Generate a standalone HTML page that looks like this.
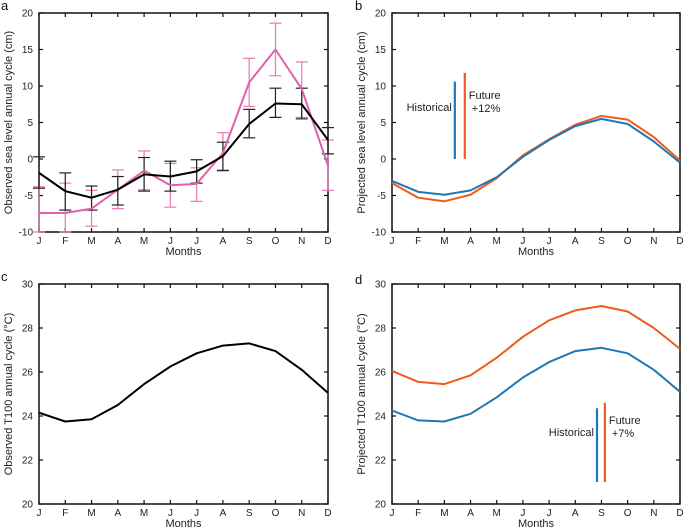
<!DOCTYPE html>
<html><head><meta charset="utf-8"><style>
body{margin:0;background:#fff;}
svg{display:block;font-family:"Liberation Sans",Arial,sans-serif;}
</style></head><body>
<svg id="chart" width="685" height="528" viewBox="0 0 685 528" xmlns="http://www.w3.org/2000/svg"></svg>
<script>
const months = ["J","F","M","A","M","J","J","A","S","O","N","D"];
// Panel a
const aBlack = [-1.9,-4.4,-5.3,-4.2,-2.1,-2.4,-1.7,0.4,4.8,7.6,7.5,2.6];
const aBlackLo = [-4,-7,-7,-6.3,-4.4,-4.4,-3.3,-1.6,2.9,5.7,5.5,0.7];
const aBlackHi = [0.3,-1.9,-3.7,-2.4,0.2,-0.3,-0.1,2.3,6.8,9.7,9.7,4.3];
const aPink = [-7.4,-7.4,-6.8,-4.2,-1.6,-3.6,-3.4,0.8,10.5,15,9.6,-0.9];
const aPinkLo = [-10,-10,-9.2,-6.8,-4.2,-6.6,-5.8,-1.5,7.2,11.4,5.7,-4.3];
const aPinkHi = [-3.8,-3.3,-4.3,-1.5,1.1,-0.6,-1.2,3.6,13.8,18.6,13.3,2.6];
// Panel b
const bHist = [-3,-4.5,-4.9,-4.3,-2.5,0.3,2.6,4.5,5.5,4.8,2.4,-0.5];
const bFut = [-3.3,-5.3,-5.8,-4.9,-2.6,0.5,2.7,4.7,5.9,5.4,3.0,-0.2];
const bLegend = {hist:[0,10.6], fut:[0,11.8], histMonth:2.4, futMonth:2.78};
// Panel c
const cObs = [24.15,23.75,23.85,24.5,25.45,26.25,26.85,27.2,27.3,26.95,26.1,25.05];
// Panel d
const dHist = [24.25,23.8,23.75,24.1,24.85,25.75,26.45,26.95,27.1,26.85,26.1,25.1];
const dFut = [26.05,25.55,25.45,25.85,26.65,27.6,28.35,28.8,29.0,28.75,28.0,27.05];
const dLegend = {hist:[21,24.35], fut:[21,24.6], histMonth:7.83, futMonth:8.13};

const ticksSL = [-10,-5,0,5,10,15,20];
const ticksT = [20,22,24,26,28,30];

const NS="http://www.w3.org/2000/svg";
const svg=document.getElementById('chart');
function mk(tag,attrs,parent,text){const e=document.createElementNS(NS,tag);for(const k in attrs)e.setAttribute(k,attrs[k]);if(text!==undefined)e.textContent=text;(parent||svg).appendChild(e);return e;}

function panel(id,L,R,T,B,ymin,ymax,ticks,ylabel,letter,lx,ly){
  const g=mk('g',{});
  
  
  const x=i=>L+(R-L)*i/11;
  const y=v=>B-(B-T)*(v-ymin)/(ymax-ymin);
  const box=mk('rect',{x:L,y:T,width:R-L,height:B-T,fill:'none',stroke:'#111','stroke-width':1.5},g);
  
  
  months.forEach((m,i)=>{
    mk('line',{x1:x(i),x2:x(i),y1:B,y2:B-4,stroke:'#111','stroke-width':1.2},g);
    mk('line',{x1:x(i),x2:x(i),y1:T,y2:T+4,stroke:'#111','stroke-width':1.2},g);
    const t=mk('text',{x:x(i),y:B+12,'font-size':10,'text-anchor':'middle',fill:'#222'},g,m);
    
    
  });
  ticks.forEach(v=>{
    mk('line',{x1:L,x2:L+4,y1:y(v),y2:y(v),stroke:'#111','stroke-width':1.2},g);
    mk('line',{x1:R,x2:R-4,y1:y(v),y2:y(v),stroke:'#111','stroke-width':1.2},g);
    const t=mk('text',{x:L-6,y:y(v)+3.5,'font-size':10,'text-anchor':'end',fill:'#222'},g,String(v));
    
    
  });
  const xt=mk('text',{x:(L+R)/2,y:B+23,'font-size':11,'text-anchor':'middle',fill:'#222'},g,'Months');
  
  
  const yc=(T+B)/2, yx=L-27;
  const yt=mk('text',{x:yx,y:yc,'font-size':11,'text-anchor':'middle',fill:'#222',transform:`rotate(-90 ${yx} ${yc})`},g,ylabel);
  
  
  const pl=mk('text',{x:lx,y:ly,'font-size':13,fill:'#111'},g,letter);
  
  
  return {g,x,y};
}
function line(p,vals,color,name,w){
  const l=mk('polyline',{points:vals.map((v,i)=>p.x(i)+','+p.y(v)).join(' '),fill:'none',stroke:color,'stroke-width':w||2,'stroke-linejoin':'round'},p.g);
  
  
}
function errs(p,lo,hi,color,name){
  lo.forEach((v,i)=>{
    const cx=p.x(i);
    const g=mk('g',{stroke:color,'stroke-width':1.2},p.g);
    
    
    mk('line',{x1:cx,x2:cx,y1:p.y(v),y2:p.y(hi[i])},g);
    mk('line',{x1:cx-6,x2:cx+6,y1:p.y(v),y2:p.y(v)},g);
    mk('line',{x1:cx-6,x2:cx+6,y1:p.y(hi[i]),y2:p.y(hi[i])},g);
  });
}
function legend(p,leg,histY,futY,pctText){
  const xm=i=>p.x(i);
  const b=mk('line',{x1:xm(leg.histMonth),x2:xm(leg.histMonth),y1:p.y(leg.hist[0]),y2:p.y(leg.hist[1]),stroke:'#1f77b4','stroke-width':2.2},p.g);
  
  
  const o=mk('line',{x1:xm(leg.futMonth),x2:xm(leg.futMonth),y1:p.y(leg.fut[0]),y2:p.y(leg.fut[1]),stroke:'#f05a1a','stroke-width':2.2},p.g);
  
  
  const h=mk('text',{x:xm(leg.histMonth)-3,y:histY,'font-size':11,'text-anchor':'end',fill:'#222'},p.g,'Historical');
  
  
  const f=mk('text',{x:xm(leg.futMonth)+4,y:futY,'font-size':11,fill:'#222'},p.g,'Future');
  
  
  const pc=mk('text',{x:xm(leg.futMonth)+7,y:futY+13,'font-size':11,fill:'#222'},p.g,pctText);
  
  
}

const pa=panel('a',39,328,13,232,-10,20,ticksSL,'Observed sea level annual cycle (cm)','a',1,10);
errs(pa,aPinkLo,aPinkHi,'#e57ab8','error-bar-pink');
errs(pa,aBlackLo,aBlackHi,'#222','error-bar-black');
line(pa,aPink,'#e060ae','line-observed-pink');
line(pa,aBlack,'#000','line-observed-black');

const pb=panel('b',392,680,13,232,-10,20,ticksSL,'Projected  sea level annual cycle (cm)','b',355,10);
line(pb,bFut,'#f05a1a','line-future');
line(pb,bHist,'#1f77b4','line-historical');
legend(pb,bLegend,111,99,'+12%');

const pc=panel('c',39,328,284,504,20,30,ticksT,'Observed T100 annual cycle (°C)','c',1,281);
line(pc,cObs,'#000','line-observed-t100');

const pd=panel('d',392,680,284,504,20,30,ticksT,'Projected T100 annual cycle (°C)','d',355,284);
line(pd,dFut,'#f05a1a','line-future');
line(pd,dHist,'#1f77b4','line-historical');
legend(pd,dLegend,436,424,'+7%');
</script>
</body></html>
